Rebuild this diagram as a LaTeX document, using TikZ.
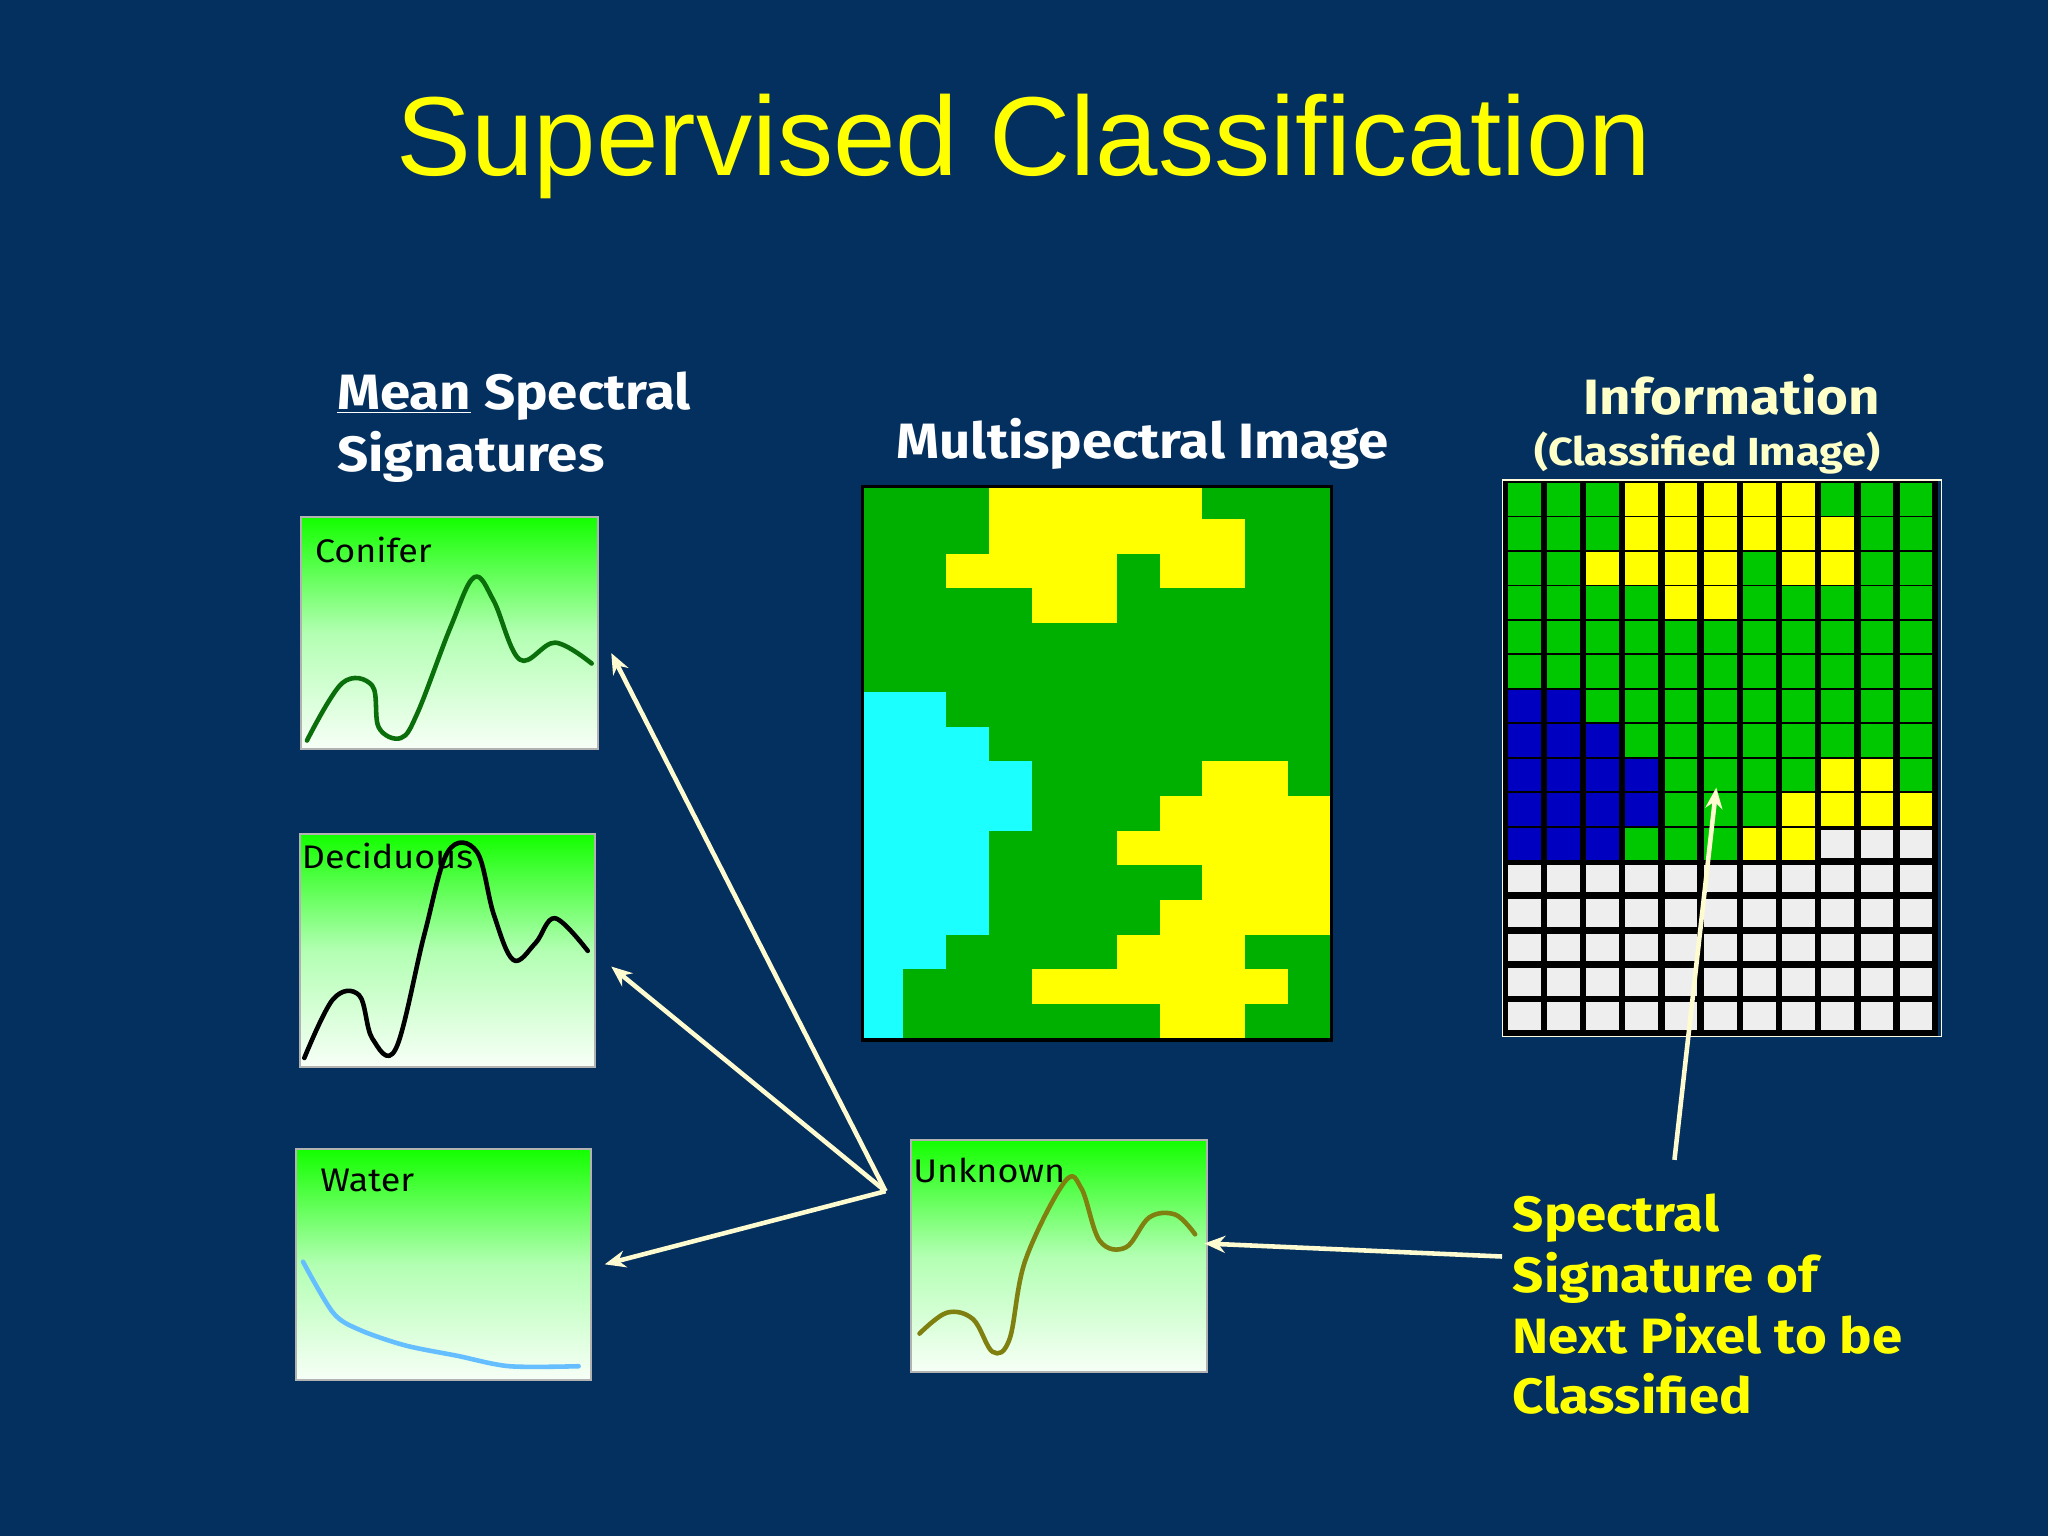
\documentclass[tikz,border=0pt]{standalone}
\usepackage{fontspec}
\setmainfont{Liberation Sans}
\newfontfamily\comic[FakeStretch=1.1]{Fira Sans}
\usetikzlibrary{arrows.meta}
\definecolor{bg}{HTML}{04305F}
\definecolor{cg}{HTML}{00B000}
\definecolor{cy}{HTML}{FFFF00}
\definecolor{cc}{HTML}{1CFFFF}
\definecolor{kg}{HTML}{00C800}
\definecolor{kb}{HTML}{0000C0}
\definecolor{kw}{HTML}{EEEEEE}
\definecolor{cream}{HTML}{FFFBD0}
\definecolor{ltitle}{HTML}{FFFFC8}
\tikzset{
  sigbox/.style={draw=gray!60, line width=1.5pt, top color=green!90!lime, bottom color=green!3!white, middle color=green!30!white, shading angle=0},
  sig/.style={line width=3.5pt, line cap=round, line join=round},
  arr/.style={draw=cream, line width=3.5pt, -{Stealth[length=16pt,width=13pt]}},
  boxlabel/.style={anchor=west, font=\comic\fontsize{25}{28}\selectfont, text=black, inner sep=0pt},
  head/.style={font=\comic\bfseries\fontsize{38}{46}\selectfont, text=white, inner sep=0pt}
}
\begin{document}
\begin{tikzpicture}[x=1pt,y=-1pt]
\fill[bg] (0,0) rectangle (1568,1176);
\useasboundingbox (0,0) rectangle (1568,1176);
\node[text=cy, font=\fontsize{86}{96}\selectfont] (title) at (784,112) {Supervised Classification};
% headings
\node[head, anchor=west] (mean) at (258,303) {\underline{Mean} Spectral};
\node[head, anchor=west] (signat) at (258,350) {Signatures};
\node[head] (multi) at (875,340) {Multispectral Image};
\node[head, text=ltitle] (info) at (1326,302) {Information};
\node[font=\comic\bfseries\fontsize{30}{36}\selectfont, text=ltitle, inner sep=0pt] (clsimg) at (1307,347) {(Classified Image)};
% multispectral image: 11 x 16
\def\mx{659}\def\my{371}\def\mw{32.7}\def\mh{26.5}
\fill[cg] (\mx,\my) rectangle ++(11*\mw,16*\mh);
\foreach \r/\a/\b in {0/3/7,1/3/8,2/2/5,2/7/8,3/4/5,8/8/9,9/7/10,10/6/10,11/8/10,12/7/10,13/6/8,14/4/9,15/7/8}
  \fill[cy] (\mx+\a*\mw,\my+\r*\mh) rectangle (\mx+\b*\mw+\mw,\my+\r*\mh+\mh);
\foreach \r/\b in {6/1,7/2,8/3,9/3,10/2,11/2,12/2,13/1,14/0,15/0}
  \fill[cc] (\mx,\my+\r*\mh) rectangle (\mx+\b*\mw+\mw,\my+\r*\mh+\mh);
\node[draw=black, line width=2.5pt, minimum width=359pt, minimum height=424pt, anchor=north west, inner sep=0pt] (msimg) at (\mx,\my) {};
% classified image: 11 x 16
\def\gx{1152}\def\gy{369}\def\gw{30.0}\def\gh{26.4}
\fill[black] (\gx-2,\gy-2) rectangle (\gx+11*\gw+2,\gy+16*\gh+2);
\foreach \row [count=\r from 0] in {
 {G,G,G,Y,Y,Y,Y,Y,G,G,G},{G,G,G,Y,Y,Y,Y,Y,Y,G,G},{G,G,Y,Y,Y,Y,G,Y,Y,G,G},{G,G,G,G,Y,Y,G,G,G,G,G},
 {G,G,G,G,G,G,G,G,G,G,G},{G,G,G,G,G,G,G,G,G,G,G},{B,B,G,G,G,G,G,G,G,G,G},{B,B,B,G,G,G,G,G,G,G,G},
 {B,B,B,B,G,G,G,G,Y,Y,G},{B,B,B,B,G,G,G,Y,Y,Y,Y},{B,B,B,G,G,G,Y,Y,W,W,W},
 {W,W,W,W,W,W,W,W,W,W,W},{W,W,W,W,W,W,W,W,W,W,W},{W,W,W,W,W,W,W,W,W,W,W},{W,W,W,W,W,W,W,W,W,W,W},{W,W,W,W,W,W,W,W,W,W,W}}
 { \foreach \c [count=\k from 0] in \row {
     \if G\c \def\col{kg}\fi \if Y\c \def\col{cy}\fi \if B\c \def\col{kb}\fi \if W\c \def\col{kw}\fi
     \if W\c
       \fill[\col] (\gx+\k*\gw+2.5,\gy+\r*\gh+2.5) rectangle ++(\gw-5,\gh-5);
     \else
       \fill[\col] (\gx+\k*\gw+2.5,\gy+\r*\gh+0.7) rectangle ++(\gw-5,\gh-1.4);
     \fi
 } }
\node[draw=cream!70, line width=1pt, minimum width=336pt, minimum height=426pt, anchor=north west, inner sep=0pt] (clsgrid) at (\gx-2,\gy-2) {};
% signature boxes
\node[sigbox, minimum width=227pt, minimum height=178pt, anchor=north west] (conifer) at (230,395) {};
\node[sigbox, minimum width=226pt, minimum height=178pt, anchor=north west] (decid) at (229,638) {};
\node[sigbox, minimum width=226pt, minimum height=177pt, anchor=north west] (water) at (226,879) {};
\node[sigbox, minimum width=226pt, minimum height=178pt, anchor=north west] (unknown) at (697,872) {};
\draw[sig, draw={rgb,255:red,10;green,110;blue,10}] plot[smooth, tension=0.6] coordinates {(235,567) (262,523) (285,525) (290,557) (307,565) (320,545) (345,480) (363,442) (378,460) (398,505) (425,492) (453,508)};
\draw[sig, draw=black] plot[smooth, tension=0.6] coordinates {(233,810) (255,765) (275,762) (285,795) (303,803) (325,715) (343,652) (365,652) (378,700) (393,735) (410,722) (425,703) (450,728)};
\draw[sig, draw={rgb,255:red,100;green,190;blue,255}] plot[smooth, tension=0.5] coordinates {(232,966) (255,1005) (275,1018) (310,1030) (350,1038) (390,1046) (443,1046)};
\draw[sig, draw={rgb,255:red,128;green,128;blue,16}] plot[smooth, tension=0.6] coordinates {(704,1021) (725,1005) (745,1010) (760,1035) (773,1025) (785,965) (815,905) (828,910) (842,950) (862,955) (880,932) (900,930) (915,945)};
\node[boxlabel] (lcon) at (241,421) {Conifer};
\node[boxlabel] (ldec) at (231,655) {Deciduous};
\node[boxlabel] (lwat) at (245,904) {Water};
\node[boxlabel] (lunk) at (699,896) {Unknown};
% caption
\node[anchor=north west, align=left, text=cy, font=\comic\bfseries\fontsize{38}{46.5}\selectfont, inner sep=0pt] (caption) at (1158,914) {Spectral\\Signature of\\Next Pixel to be\\Classified};
% arrows
\coordinate (hub) at (678,912);
\coordinate (capend) at (1150,962);
\coordinate (unkin) at (922,952);
\coordinate (capup) at (1282,888);
\coordinate (pix) at (1314,603);
\draw[arr] (hub) -- (468,500);
\draw[arr] (hub) -- (468,740);
\draw[arr] (hub) -- (463,968);
\draw[arr] (capend) -- (unkin);
\draw[arr] (capup) -- (pix);
\end{tikzpicture}
\end{document}
